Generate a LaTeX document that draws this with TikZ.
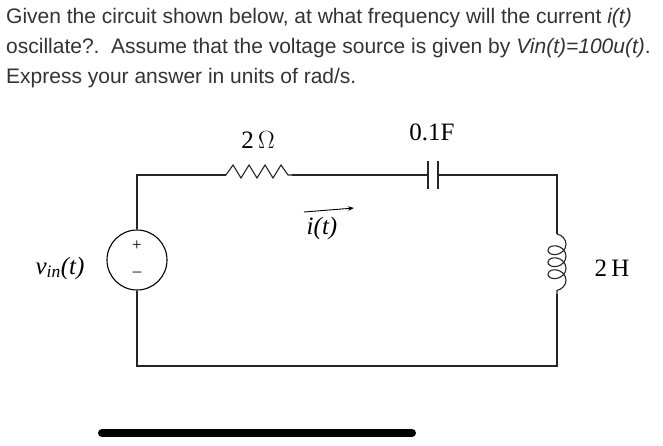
\documentclass[tikz,border=0pt]{standalone}
\usepackage{fontspec}
\setmainfont{Liberation Serif}
\newfontfamily\qf{Liberation Sans}
\usetikzlibrary{decorations.pathmorphing,arrows.meta}
\begin{document}
\begin{tikzpicture}[x=1pt,y=-1pt,
  wire/.style={line width=1.1pt,black!85},
  qtext/.style={anchor=west,inner sep=0pt,font=\qf\fontsize{21}{22}\selectfont,text=black!80},
  lbl/.style={inner sep=0pt,font=\fontsize{25}{26}\selectfont}]
\useasboundingbox[fill=white] (0,0) rectangle (663,445);
\node[qtext] (q1) at (6,18) {Given the circuit shown below, at what frequency will the current \textit{i(t)}};
\node[qtext] (q2) at (6,48) {oscillate?.\ \ Assume that the voltage source is given by \textit{Vin(t)=100u(t)}.};
\node[qtext] (q3) at (6,78) {Express your answer in units of rad/s.};
\coordinate (tl) at (137,175); \coordinate (tr) at (557,175);
\coordinate (bl) at (137,366); \coordinate (br) at (557,366);
\node[circle,draw,line width=1.1pt,minimum size=60pt,inner sep=0pt] (src) at (137,260) {};
\node[font=\fontsize{17}{17}\selectfont] (plus) at (137,246) {+};
\node[font=\fontsize{17}{17}\selectfont] (minus) at (137,274) {--};
\coordinate (r1) at (226,175); \coordinate (r2) at (292,175);
\coordinate (c1) at (428,175); \coordinate (c2) at (438,175);
\coordinate (l1) at (557,234); \coordinate (l2) at (557,294);
\draw[wire] (src.north) -- (tl) -- (r1);
\draw[wire] (r1) -- ++(7,-10) -- ++(8,13) -- ++(8,-13) -- ++(8,13) -- ++(8,-13) -- ++(8,13) -- ++(8,-13) -- ++(7,10) -- (r2);
\draw[wire] (r2) -- (c1);
\draw[wire] (c1) ++(0,-14) -- ++(0,28);
\draw[wire] (c2) ++(0,-14) -- ++(0,28);
\draw[wire] (c2) -- (tr) -- (l1);
\draw[wire,decorate,decoration={coil,aspect=0.8,segment length=12pt,amplitude=9pt}] (l1) -- (l2);
\draw[wire] (l2) -- (br) -- (bl) -- (src.south);
\node[lbl] (lr) at (258,140) {2\,$\Omega$};
\node[lbl] (lc) at (432,132) {0.1F};
\node[lbl] (li) at (322,228) {\textit{i(t)}};
\coordinate (a1) at (304,212); \coordinate (a2) at (354,208);
\draw[line width=0.9pt,-{Stealth[length=6pt]}] (a1) -- (a2);
\node[lbl] (lv) at (60,268) {\textit{v}\textsubscript{\textit{in}}\textit{(t)}};
\node[lbl] (ll) at (612,268) {2\,H};
\coordinate (b1) at (102,433); \coordinate (b2) at (412,433);
\draw[line width=8pt,line cap=round] (b1) -- (b2);
\end{tikzpicture}
\end{document}
